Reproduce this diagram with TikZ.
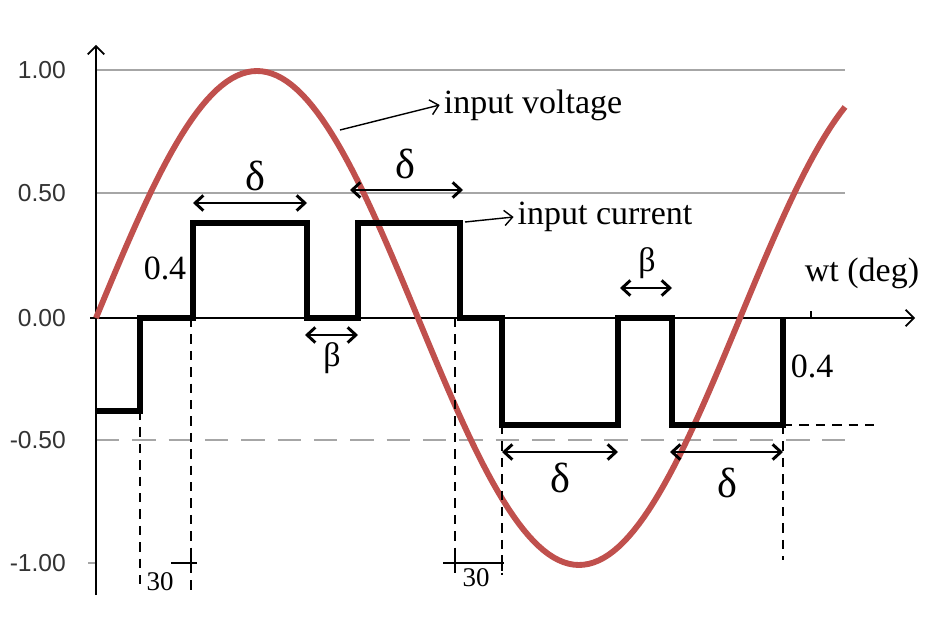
\documentclass[tikz,border=0pt]{standalone}
\usepackage{fontspec}
\setmainfont{Liberation Serif}
\newfontfamily\axfont{Liberation Sans}
\usetikzlibrary{arrows.meta}
\definecolor{sinred}{RGB}{192,80,77}
\begin{document}
\begin{tikzpicture}[x=0.03cm,y=-0.03cm,
  grid/.style={gray!70,line width=1.2pt},
  cline/.style={black,dash pattern=on 8pt off 6pt,line width=1.4pt},
  cur/.style={line width=5.5pt,line join=miter},
  dim/.style={{Straight Barb[length=7pt,width=13pt]}-{Straight Barb[length=7pt,width=13pt]},line width=2.5pt},
  lab/.style={font=\fontsize{29}{31}\selectfont},
  sym/.style={font=\fontsize{36}{38}\selectfont},
  tk/.style={font=\axfont\fontsize{21}{23}\selectfont,text=black!80,anchor=east},
  ptr/.style={-{Straight Barb[length=7pt,width=13pt]},line width=1.2pt}]
\useasboundingbox (0,0) rectangle (942,620);
% grid
\draw[grid] (96,70) -- (845,70);
\draw[grid] (96,193) -- (845,193);
\draw[grid,dash pattern=on 20pt off 11pt] (96,440) -- (845,440);
\draw[grid] (88,563) -- (96,563);
% axes
\draw[line width=1.5pt,-{Straight Barb[length=7pt,width=14pt]}] (96,595) -- (96,45);
\draw[line width=1.5pt,-{Straight Barb[length=7pt,width=14pt]}] (90,318) -- (915,318);
\draw[line width=1.2pt] (811,311) -- (811,318);
% tick labels
\node[tk] (t1) at (70,70) {1.00};
\node[tk] (t2) at (70,193) {0.50};
\node[tk] (t3) at (70,318) {0.00};
\node[tk] (t4) at (70,440) {-0.50};
\node[tk] (t5) at (70,563) {-1.00};
% sine
\draw[sinred,line width=5pt] plot[domain=96:845,samples=150] (\x,{318-247*sin((\x-96)/644*360)});
% dashed construction lines
\draw[cline] (140,411) -- (140,590);
\draw[cline] (191,318) -- (191,590);
\draw[cline] (455,318) -- (455,575);
\draw[cline] (502,425) -- (502,575);
\draw[cline] (783,425) -- (783,560);
\draw[cline] (783,425) -- (880,425);
\draw[line width=1.2pt] (171,563) -- (197,563);
\draw[line width=1.2pt] (443,563) -- (504,563);
\draw[line width=1.2pt] (455,555) -- (455,571);
\draw[line width=1.2pt] (191,555) -- (191,571);
\draw[line width=1.2pt] (502,555) -- (502,571);
\node[font=\fontsize{23}{25}\selectfont] (n30a) at (160,582) {30};
\node[font=\fontsize{23}{25}\selectfont] (n30b) at (476,578) {30};
% current
\draw[cur] (96,411) -- (140,411) -- (140,318) -- (193,318) -- (193,223) -- (307,223) -- (307,318) -- (358,318) -- (358,223) -- (460,223) -- (460,318) -- (502,318) -- (502,425) -- (618,425) -- (618,318) -- (672,318) -- (672,425) -- (783,425) -- (783,318);
% dimension arrows
\coordinate (d1a) at (193,203); \coordinate (d1b) at (307,203);
\coordinate (d2a) at (350,190); \coordinate (d2b) at (463,190);
\coordinate (b1a) at (305,335); \coordinate (b1b) at (358,335);
\coordinate (b2a) at (620,288); \coordinate (b2b) at (672,288);
\coordinate (d3a) at (502,452); \coordinate (d3b) at (618,452);
\coordinate (d4a) at (670,452); \coordinate (d4b) at (783,452);
\draw[dim] (d1a) -- (d1b);
\draw[dim] (d2a) -- (d2b);
\draw[dim] (b1a) -- (b1b);
\draw[dim] (b2a) -- (b2b);
\draw[dim] (d3a) -- (d3b);
\draw[dim] (d4a) -- (d4b);
\node[sym] (l1) at (255,176) {δ};
\node[sym] (l2) at (405,164) {δ};
\node[lab] (l3) at (332,358) {β};
\node[lab] (l4) at (647,263) {β};
\node[sym] (l5) at (560,478) {δ};
\node[sym] (l6) at (727,483) {δ};
% text labels
\node[lab] (iv) at (533,105) {input voltage};
\node[lab] (ic) at (605,217) {input current};
\coordinate (ivs) at (340,130);
\coordinate (ics) at (465,222);
\draw[ptr] (ivs) -- (iv.west);
\draw[ptr] (ics) -- (ic.west);
\node[lab] (q1) at (165,268) {0.4};
\node[lab] (q2) at (812,366) {0.4};
\node[lab] (wt) at (862,273) {wt (deg)};
\end{tikzpicture}
\end{document}
